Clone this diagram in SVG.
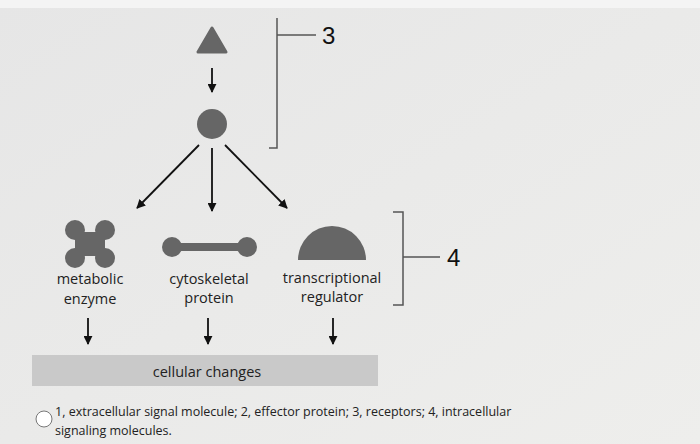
<svg xmlns="http://www.w3.org/2000/svg" width="700" height="444" viewBox="0 0 700 444">
<defs>
<linearGradient id="bg" x1="0" y1="0" x2="1" y2="1"><stop offset="0" stop-color="#e6e6e6"/><stop offset="1" stop-color="#eeeeec"/></linearGradient>
<marker id="ah" viewBox="0 0 10 10" refX="9" refY="5" markerWidth="9" markerHeight="9" orient="auto" markerUnits="userSpaceOnUse"><path d="M0,0L10,5L0,10z" fill="#111"/></marker>
</defs>
<style>
.ln{stroke:#111;stroke-width:1.8;fill:none}
.br{stroke:#555;stroke-width:1.5;fill:none}
.sh{fill:#666}
.t{font-family:"Open Sans","Liberation Sans",sans-serif;font-size:14.5px;fill:#222;text-anchor:middle}
.n{font-family:"Liberation Sans",sans-serif;font-size:24px;fill:#111}
.o{font-family:"Open Sans","Liberation Sans",sans-serif;font-size:12.5px;fill:#222}
</style>
<rect width="700" height="444" fill="url(#bg)"/>
<rect width="700" height="8" fill="#f4f4f4"/>
<g id="signal"><path d="M212,28 L226,52 L198,52 Z" class="sh" stroke="#666" stroke-width="3" stroke-linejoin="round"/></g>
<g id="receptor"><circle cx="212" cy="124" r="15" class="sh"/></g>
<g id="bracket3"><path class="br" d="M269,148 H277 V18 M277,35 H316"/><text class="n" x="322" y="44">3</text></g>
<g id="metabolic"><circle cx="75" cy="230" r="10" class="sh"/><circle cx="105" cy="230" r="10" class="sh"/><circle cx="75" cy="258" r="10" class="sh"/><circle cx="105" cy="258" r="10" class="sh"/><rect x="75" y="232" width="30" height="24" class="sh"/>
<text class="t" x="90" y="284">metabolic</text><text class="t" x="90" y="304">enzyme</text></g>
<g id="cytoskeletal"><circle cx="172" cy="247" r="10" class="sh"/><circle cx="247" cy="247" r="10" class="sh"/><rect x="172" y="243" width="75" height="8" class="sh"/>
<text class="t" x="209" y="284">cytoskeletal</text><text class="t" x="209" y="303">protein</text></g>
<g id="transcriptional"><path d="M298,260 A34,34 0 0 1 366,260 Z" class="sh"/>
<text class="t" x="332" y="283">transcriptional</text><text class="t" x="332" y="302">regulator</text></g>
<g id="bracket4"><path class="br" d="M393,212 H403 V305 H393 M403,257 H440"/><text class="n" x="447" y="266">4</text></g>
<g id="connectors">
<line class="ln" x1="212" y1="68" x2="212" y2="92" marker-end="url(#ah)"/>
<line class="ln" x1="199" y1="145" x2="137" y2="208" marker-end="url(#ah)"/>
<line class="ln" x1="212" y1="148" x2="212" y2="211" marker-end="url(#ah)"/>
<line class="ln" x1="225" y1="145" x2="287" y2="208" marker-end="url(#ah)"/>
<line class="ln" x1="88" y1="318" x2="88" y2="344" marker-end="url(#ah)"/>
<line class="ln" x1="208" y1="318" x2="208" y2="344" marker-end="url(#ah)"/>
<line class="ln" x1="333" y1="318" x2="333" y2="344" marker-end="url(#ah)"/>
</g>
<g id="changes"><rect x="32" y="355" width="346" height="31" fill="#c9c9c9"/><text class="t" x="207" y="377">cellular changes</text></g>
<g id="option"><circle cx="44" cy="419" r="8" fill="#fff" stroke="#777" stroke-width="1"/>
<text class="o" x="55" y="416">1, extracellular signal molecule; 2, effector protein; 3, receptors; 4, intracellular</text>
<text class="o" x="55" y="435">signaling molecules.</text></g>
</svg>
